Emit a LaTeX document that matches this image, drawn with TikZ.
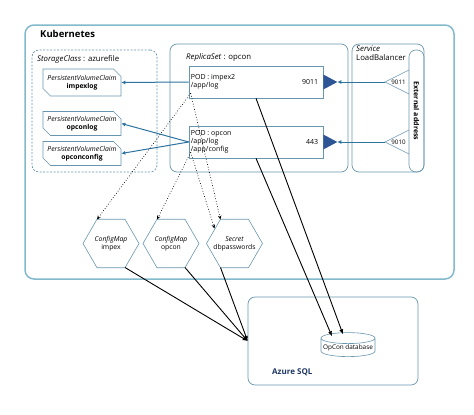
\documentclass[tikz,border=0pt]{standalone}
\usepackage{fontspec}
\setmainfont{Open Sans}
\usetikzlibrary{shapes.geometric,shapes.misc,arrows.meta,calc}
\definecolor{kubeline}{RGB}{130,185,205}
\definecolor{boxline}{RGB}{105,150,175}
\definecolor{linkblue}{RGB}{45,115,160}
\definecolor{portblue}{RGB}{45,85,150}
\definecolor{sqltext}{RGB}{30,55,100}
\tikzset{%
    grp/.style={draw=boxline,rounded corners=7pt,line width=0.7pt},
    lbl/.style={inner sep=1pt,font=\fontsize{7.8}{9}\selectfont},
    pvc/.style={chamfered rectangle,chamfered rectangle corners={north east,south west},
        chamfered rectangle xsep=4pt,draw=boxline,line width=0.6pt,inner sep=0pt,
        minimum width=78pt,minimum height=24pt,align=center,font=\fontsize{6.8}{8}\selectfont},
    pod/.style={draw=boxline,line width=0.6pt,minimum width=134pt,minimum height=32pt},
    podtxt/.style={inner sep=2pt,align=left,font=\fontsize{7}{8}\selectfont},
    hexa/.style={inner sep=1pt,align=center,font=\fontsize{6.8}{8}\selectfont},
    port/.style={draw=boxline,line width=0.6pt},
    linkarrow/.style={draw=linkblue,line width=1pt,-{Latex[length=4pt,width=4pt]}},
    dbarrow/.style={line width=0.9pt,-{Latex[length=5pt,width=4pt]}},
    cfgarrow/.style={dotted,line width=0.7pt,-{Stealth[length=4pt,width=3.5pt]}}
}

\begin{document}
\begin{tikzpicture}[x=1pt,y=-1pt]
        \useasboundingbox (0,0) rectangle (474,415);

        \node[draw=kubeline,line width=1.5pt,rounded corners=9pt,minimum width=429pt,minimum height=254pt] (kube) at (239.5,152){};
        \node[anchor=west,inner sep=0pt,font=\bfseries\fontsize{9.5}{11}\selectfont] (kubetitle) at (40,34){Kubernetes};

        % storage class
        \node[grp,dash pattern=on 2pt off 1.5pt,minimum width=125pt,minimum height=122pt] (storage) at (94.5,111){};
        \node[lbl,anchor=west] (storagetitle) at (36,59.5){\textit{StorageClass} : azurefile};
        \node[pvc,minimum height=27pt] (impexlog) at (82,82.5){\textit{PersistentVolumeClaim}\\\textbf{impexlog}};
        \node[pvc] (opconlog) at (82,123.5){\textit{PersistentVolumeClaim}\\\textbf{opconlog}};
        \node[pvc] (opconconfig) at (82,153.5){\textit{PersistentVolumeClaim}\\\textbf{opconconfig}};

        % replica set
        \node[grp,minimum width=178pt,minimum height=128pt] (replicaset) at (259,108){};
        \node[lbl,anchor=west] (replicatitle) at (185,57){\textit{ReplicaSet} : opcon};
        \node[pod] (impex2) at (256,82){};
        \node[podtxt,anchor=west] (impex2txt) at (impex2.west){POD : impex2\\/app/log};
        \node[podtxt,anchor=east] (impex2port) at ($(impex2.east)+(-3,0)$){9011};
        \node[pod] (opcon) at (256,142){};
        \node[podtxt,anchor=west] (opcontxt) at (opcon.west){POD : opcon\\/app/log\\/app/config};
        \node[podtxt,anchor=east] (opconport) at ($(opcon.east)+(-3,0)$){443};

        \fill[portblue] (impex2.east) -- ++(0,-7.5) -- ++(14,7.5) -- ++(-14,7.5) -- cycle;
        \fill[portblue] (opcon.east) -- ++(0,-7.5) -- ++(14,7.5) -- ++(-14,7.5) -- cycle;
        \coordinate (pin9011) at ($(impex2.east)+(14,0)$);
        \coordinate (pin443) at ($(opcon.east)+(14,0)$);

        % load balancer
        \node[grp,minimum width=72pt,minimum height=128pt] (service) at (388,108){};
        \node[lbl,anchor=north west,align=left] (servicetitle) at (355,45){\textit{Service}\\LoadBalancer};
        \node[draw=boxline,line width=0.6pt,rounded corners=7pt,rotate=-90,minimum width=122pt,minimum height=15pt,
            inner sep=0pt,font=\bfseries\fontsize{7}{8}\selectfont] (ext) at (416.5,111){External address};

        \coordinate (lb9011) at (385,82);
        \coordinate (lb9010) at (385,142);
        \draw[port] (409,70) -- (lb9011) -- (409,94);
        \draw[port] (409,130) -- (lb9010) -- (409,154);
        \node[inner sep=0pt,font=\fontsize{6.2}{7}\selectfont] (t9011) at (398.5,82){9011};
        \node[inner sep=0pt,font=\fontsize{6.2}{7}\selectfont] (t9010) at (398.5,142){9010};

        \draw[linkarrow] (lb9011) -- (pin9011);
        \draw[linkarrow] (lb9010) -- (pin443);
        \draw[linkarrow] (impex2.west) -- (impexlog.east);
        \draw[linkarrow] (opcon.west) -- (opconlog.east);
        \draw[linkarrow] (opcon.west) -- (opconconfig.east);

        % config maps and secret
        \node[hexa] (cmimpex) at (111,243.5){\textit{ConfigMap}\\impex};
        \node[hexa] (cmopcon) at (171,243.5){\textit{ConfigMap}\\opcon};
        \node[hexa] (secret) at (234.5,243.5){\textit{Secret}\\dbpasswords};
        \foreach \h in {cmimpex,cmopcon,secret}
            \draw[port] (\h.center) ++(28,0) -- ++(-14,-24.25) -- ++(-28,0) -- ++(-14,24.25) -- ++(14,24.25) -- ++(28,0) -- cycle;

        \coordinate (impex2cfg) at ($(impex2.south west)+(2,-5)$);
        \coordinate (opconcfg) at ($(opcon.south west)+(2,-6)$);
        \draw[cfgarrow] (impex2cfg) -- ($(cmimpex.center)+(-14,-24)$);
        \draw[cfgarrow] (impex2cfg) -- ($(secret.center)+(-14,-24)$);
        \draw[cfgarrow] (opconcfg) -- ($(cmopcon.center)+(-14,-24)$);
        \draw[cfgarrow] (opconcfg) -- ($(secret.center)+(-20,-15)$);

        % azure sql
        \node[grp,minimum width=170pt,minimum height=88pt] (sql) at (333,341){};
        \node[anchor=west,inner sep=0pt,text=sqltext,font=\bfseries\fontsize{8}{9}\selectfont] (sqltitle) at (272,372){Azure SQL};
        \node[cylinder,shape border rotate=90,aspect=0.22,draw=boxline,line width=0.6pt,
            minimum width=54pt,minimum height=24pt,inner sep=0pt,font=\fontsize{6.4}{7}\selectfont] (opcondb) at (348,347.5){OpCon database};

        \draw[dbarrow] (impex2.south) -- ($(opcondb.north)+(-5,2)$);
        \draw[dbarrow] (opcon.south) -- ($(opcondb.north)+(-16,4)$);
        \draw[dbarrow] ($(cmimpex.center)+(14,24)$) -- (sql.west);
        \draw[dbarrow] ($(cmopcon.center)+(14,24)$) -- (sql.west);
        \draw[dbarrow] ($(secret.center)+(-14,24)$) -- (sql.west);
    \end{tikzpicture}
\end{document}
